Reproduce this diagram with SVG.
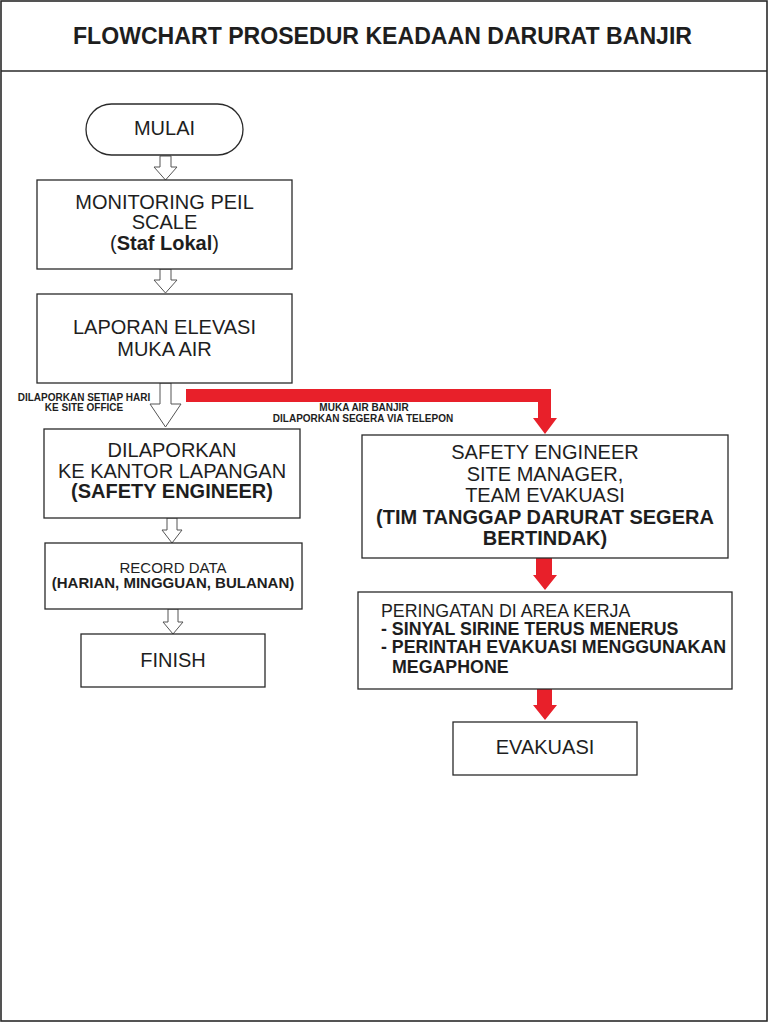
<svg xmlns="http://www.w3.org/2000/svg" width="768" height="1024" viewBox="0 0 768 1024">
<style>
text{font-family:"Liberation Sans",Arial,Helvetica,sans-serif;fill:#1e1e1e;text-anchor:middle}
.t{font-size:23px;font-weight:bold}
.n{font-size:20px}
.m{font-size:17.8px}
.s{font-size:15px}
.b{font-weight:bold}
.lbl{font-size:10px;font-weight:bold}
.box{fill:#fff;stroke:#2a2a2a;stroke-width:1.3}
.hol{fill:#fff;stroke:#555;stroke-width:1}
.red{fill:#e8202a;stroke:none}
</style>
<rect x="0" y="0" width="768" height="1024" fill="#fff"/>
<g id="frame">
<rect x="1" y="1" width="766" height="1020" fill="none" stroke="#2a2a2a" stroke-width="1.6"/>
<line x1="1" y1="71" x2="767" y2="71" stroke="#2a2a2a" stroke-width="1.6"/>
<text class="t" x="382.5" y="44" textLength="619" lengthAdjust="spacingAndGlyphs">FLOWCHART PROSEDUR KEADAAN DARURAT BANJIR</text>
</g>
<g id="connectors">
<polygon class="hol" points="160,156 171,156 171,167 177,167 165.5,180 154,167 160,167"/>
<polygon class="hol" points="160,269 171,269 171,280 177,280 165.5,293 154,280 160,280"/>
<polygon class="hol" points="160,383 171,383 171,404 181,404 165.5,427 150,404 160,404"/>
<polygon class="hol" points="167,518 177,518 177,530 182,530 172,543 162,530 167,530"/>
<polygon class="hol" points="168,609 178,609 178,622 183,622 173,634 163,622 168,622"/>
<polygon class="red" points="186,389 551,389 551,418 557,418 545,434 533,418 538,418 538,402 186,402"/>
<polygon class="red" points="536,558 552,558 552,575 557,575 545,590 533,575 536,575"/>
<polygon class="red" points="537,689 552,689 552,705 557,705 545,720 533,705 537,705"/>
<text class="lbl" x="84" y="401">DILAPORKAN SETIAP HARI</text>
<text class="lbl" x="84" y="411">KE SITE OFFICE</text>
<text class="lbl" x="364" y="411">MUKA AIR BANJIR</text>
<text class="lbl" x="363" y="422">DILAPORKAN SEGERA VIA TELEPON</text>
</g>
<g id="mulai">
<rect class="box" x="86" y="104" width="157" height="51" rx="25.5"/>
<text class="n" x="164.5" y="135">MULAI</text>
</g>
<g id="monitoring">
<rect class="box" x="37" y="180" width="255" height="89"/>
<text class="n" x="164.5" y="209">MONITORING PEIL</text>
<text class="n" x="164.5" y="229">SCALE</text>
<text class="n" x="164.5" y="250">(<tspan class="b">Staf Lokal</tspan>)</text>
</g>
<g id="laporan">
<rect class="box" x="37" y="294" width="255" height="89"/>
<text class="n" x="164.5" y="334">LAPORAN ELEVASI</text>
<text class="n" x="164.5" y="356">MUKA AIR</text>
</g>
<g id="dilaporkan">
<rect class="box" x="44" y="429" width="256" height="89"/>
<text class="n" x="172" y="457">DILAPORKAN</text>
<text class="n" x="172" y="478">KE KANTOR LAPANGAN</text>
<text class="n b" x="172" y="498">(SAFETY ENGINEER)</text>
</g>
<g id="record">
<rect class="box" x="45" y="543" width="257" height="66"/>
<text class="s" x="173" y="573">RECORD DATA</text>
<text class="s b" x="173" y="588">(HARIAN, MINGGUAN, BULANAN)</text>
</g>
<g id="finish">
<rect class="box" x="81" y="634" width="184" height="53"/>
<text class="n" x="173" y="667">FINISH</text>
</g>
<g id="safety">
<rect class="box" x="362" y="435" width="366" height="123"/>
<text class="n" x="545" y="459">SAFETY ENGINEER</text>
<text class="n" x="545" y="481">SITE MANAGER,</text>
<text class="n" x="545" y="502">TEAM EVAKUASI</text>
<text class="n b" x="545" y="524">(TIM TANGGAP DARURAT SEGERA</text>
<text class="n b" x="545" y="545">BERTINDAK)</text>
</g>
<g id="peringatan">
<rect class="box" x="358" y="592" width="374" height="97"/>
<text class="m" x="381" y="617" style="text-anchor:start">PERINGATAN DI AREA KERJA</text>
<text class="m b" x="381" y="635" style="text-anchor:start">- SINYAL SIRINE TERUS MENERUS</text>
<text class="m b" x="381" y="653" style="text-anchor:start">- PERINTAH EVAKUASI MENGGUNAKAN</text>
<text class="m b" x="392" y="673" style="text-anchor:start">MEGAPHONE</text>
</g>
<g id="evakuasi">
<rect class="box" x="453" y="722" width="184" height="53"/>
<text class="n" x="545" y="754">EVAKUASI</text>
</g>
</svg>
